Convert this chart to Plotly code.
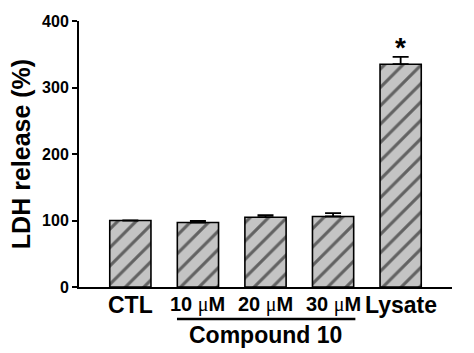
import plotly.graph_objects as go

categories = ["CTL", "10 μM", "20 μM", "30 μM", "Lysate"]
values = [100, 97, 105, 106, 335]
errors = [0, 2.5, 3, 5, 11]
y_ticks = [0, 100, 200, 300, 400]
group_label = "Compound 10"
group_members = [1, 3]
sig_marks = ["", "", "", "", "*"]

def fmt(c):
    if "μ" in c:
        n = c.split(" ")[0]
        return f"<b>{n} </b><span style='font-family:serif'>μ</span><b>M</b>"
    return f"<b>{c}</b>"

xs = list(range(len(categories)))
fig = go.Figure()
fig.add_trace(go.Bar(
    x=xs, y=values, width=0.61,
    marker=dict(color="#c4c4c4",
                line=dict(color="black", width=1.6),
                pattern=dict(shape="/", fgcolor="black", bgcolor="#c4c4c4",
                             size=13, solidity=0.24, fillmode="overlay")),
    error_y=dict(type="data", symmetric=False, array=errors,
                 arrayminus=[0]*len(errors), color="black", thickness=1.8, width=8),
))

for i, m in enumerate(sig_marks):
    if m:
        fig.add_annotation(x=xs[i], y=values[i] + errors[i], text=f"<b>{m}</b>",
                           showarrow=False, yanchor="bottom", yshift=-8,
                           font=dict(size=28, color="black", family="Arial, Liberation Sans"))

for i, c in enumerate(categories):
    fig.add_annotation(x=xs[i], xref="x", yref="paper", y=-0.066, yanchor="middle",
                       text=fmt(c), showarrow=False,
                       font=dict(size=20 if "μ" in c else 23, color="black",
                                 family="Arial, Liberation Sans"))

fig.add_shape(type="line", xref="x", yref="paper",
              x0=group_members[0] - 0.31, x1=group_members[1] + 0.33,
              y0=-0.12, y1=-0.12, line=dict(color="black", width=2.5))
fig.add_annotation(x=(group_members[0] + group_members[1]) / 2, xref="x", yref="paper",
                   y=-0.18, text=f"<b>{group_label}</b>", showarrow=False,
                   yanchor="middle", font=dict(size=23, color="black",
                                                family="Arial, Liberation Sans"))

fig.update_layout(
    width=474, height=353,
    margin=dict(l=79, r=22, t=21, b=66),
    paper_bgcolor="white", plot_bgcolor="white",
    showlegend=False,
    font=dict(family="Arial, Liberation Sans", color="black"),
    xaxis=dict(range=[-0.76, 4.76], tickvals=xs, showticklabels=False,
               showline=True, linecolor="black", linewidth=2,
               ticks="", showgrid=False, zeroline=False),
    yaxis=dict(range=[0, 400], tickvals=y_ticks,
               ticktext=[f"<b>{t}</b>" for t in y_ticks],
               showline=True, linecolor="black", linewidth=2,
               ticks="outside", ticklen=5, tickwidth=2, tickcolor="black",
               showgrid=False, zeroline=False,
               tickfont=dict(size=16, color="black"),
               title=dict(text="<b>LDH release (%)</b>", font=dict(size=25, color="black"),
                          standoff=4)),
)
fig.write_html("out.html")
